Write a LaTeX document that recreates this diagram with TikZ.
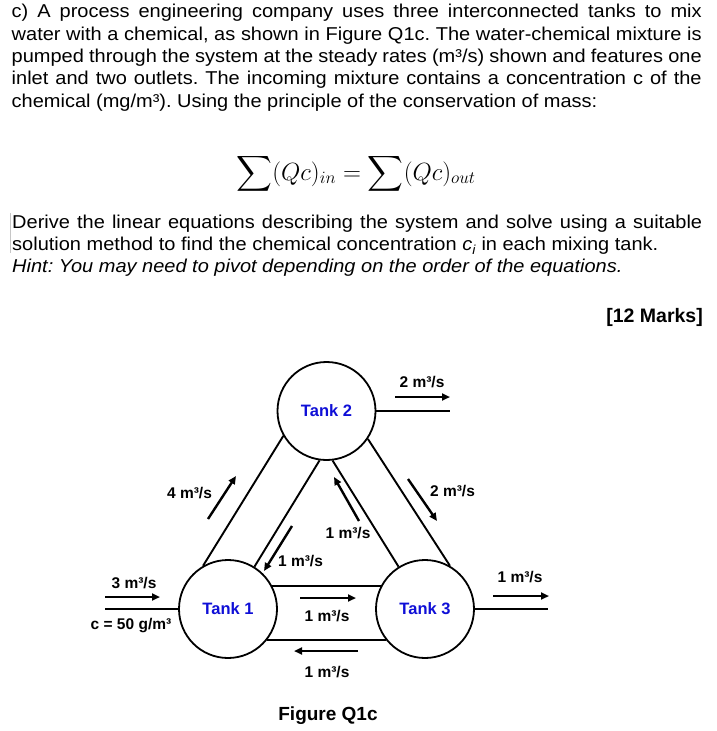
\documentclass[tikz,border=0pt]{standalone}
\usepackage{amsmath}
\usepackage{fontspec}
\setmainfont{Liberation Sans}
\newfontfamily\bodyfont{Liberation Sans}[FakeStretch=1.075]
\usetikzlibrary{arrows.meta}
\definecolor{tankblue}{RGB}{15,15,215}
\newcommand\jline[1]{\makebox[690pt][s]{#1}}
\frenchspacing
\begin{document}
\begin{tikzpicture}[x=1pt,y=-1pt,
  txt/.style={inner sep=0pt, font=\bodyfont\fontsize{18.6}{22}\selectfont},
  lbl/.style={inner sep=0pt, font=\fontsize{15.5}{18}\selectfont\bfseries},
  tank/.style={circle, draw, line width=1.8pt, minimum size=98pt, inner sep=0pt,
    font=\fontsize{16.5}{19}\selectfont\bfseries, text=tankblue},
  tube/.style={line width=1.9pt},
  flow/.style={line width=2.4pt, -{Triangle[length=8pt,width=7pt]}}]
\fill[white] (0,0) rectangle (717,731);
\useasboundingbox (0,0) rectangle (717,731);
% ---- text ----
\node[txt, anchor=base west] (p1) at (11.5,17.5) {\jline{c) A process engineering company uses three interconnected tanks to mix}};
\node[txt, anchor=base west] (p2) at (11.5,40) {\jline{water with a chemical, as shown in Figure Q1c. The water-chemical mixture is}};
\node[txt, anchor=base west] (p3) at (11.5,62.4) {\jline{pumped through the system at the steady rates (m³/s) shown and features one}};
\node[txt, anchor=base west] (p4) at (11.5,84.9) {\jline{inlet and two outlets. The incoming mixture contains a concentration c of the}};
\node[txt, anchor=base west] (p5) at (11.5,107.3) {chemical (mg/m³). Using the principle of the conservation of mass:};
\node[inner sep=0pt, font=\fontsize{24}{28}\selectfont] (eq) at (356,174) {$\displaystyle\sum(Qc)_{in}=\sum(Qc)_{out}$};
\draw[gray!45, line width=0.8pt] (10.5,213) -- (10.5,253);
\node[txt, anchor=base west] (q1) at (12,228.3) {\jline{Derive the linear equations describing the system and solve using a suitable}};
\node[txt, anchor=base west] (q2) at (12,250.7) {solution method to find the chemical concentration {\itshape c\textsubscript{i}} in each mixing tank.};
\node[txt, anchor=base west] (q3) at (12,272.5) {\itshape Hint: You may need to pivot depending on the order of the equations.};
\node[txt, anchor=base east, font=\fontsize{19.5}{22}\selectfont\bfseries] (marks) at (703,322) {[12 Marks]};
% ---- tanks ----
\node[tank] (t2) at (326.5,411) {Tank 2};
\node[tank] (t1) at (228,609) {Tank 1};
\node[tank] (t3) at (425,609) {Tank 3};
% ---- pipes ----
\draw[tube] (t1.120) -- (t2.210);
\draw[tube] (t1.58) -- (t2.262);
\draw[tube] (t2.277) -- (t3.122);
\draw[tube] (t2.326) -- (t3.60);
\draw[tube] (t1.28) -- (t3.152);
\draw[tube] (t1.-38) -- (t3.218);
\coordinate (inlet) at (105,609);
\coordinate (out3) at (548,609);
\coordinate (out2) at (450,411);
\draw[tube] (inlet) -- (t1.west);
\draw[tube] (t3.east) -- (out3);
\draw[tube] (t2.east) -- (out2);
% ---- flow arrows ----
\draw[flow] (105,597) -- (160,597);
\node[lbl] (l1) at (134,583) {3 m³/s};
\node[lbl] (l2) at (131,626) {c = 50 g/m³};
\draw[flow] (493,596) -- (549,596);
\node[lbl] (l3) at (520,577) {1 m³/s};
\draw[flow] (395,397) -- (450,397);
\node[lbl] (l4) at (422,382) {2 m³/s};
\draw[flow] (300,598) -- (356,598);
\node[lbl] (l5) at (327,616) {1 m³/s};
\draw[flow] (358,651) -- (294,651);
\node[lbl] (l6) at (327,672) {1 m³/s};
\draw[flow] (208,519) -- (236,476);
\node[lbl] (l7) at (189.5,493) {4 m³/s};
\draw[flow] (408,479) -- (437,521);
\node[lbl] (l8) at (452.5,491) {2 m³/s};
\draw[flow] (359,521) -- (334,477);
\node[lbl] (l9) at (348,533) {1 m³/s};
\draw[flow] (292,526) -- (264,571);
\node[lbl] (l10) at (300.5,561) {1 m³/s};
\node[txt, anchor=base, font=\fontsize{19}{22}\selectfont\bfseries] (fig) at (328,720) {Figure Q1c};
\end{tikzpicture}
\end{document}
